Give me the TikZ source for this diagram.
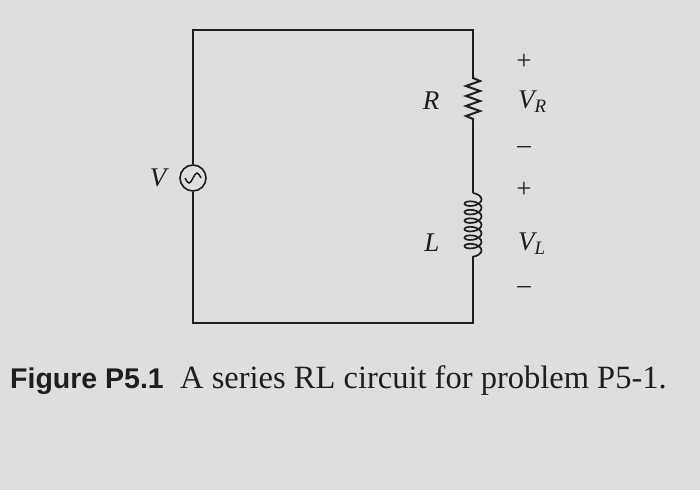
\documentclass[tikz,border=0pt]{standalone}
\usepackage{fontspec}
\setmainfont{Liberation Serif}
\newfontfamily\capsans{Liberation Sans}
\usetikzlibrary{decorations.pathmorphing}
\definecolor{page}{RGB}{222,222,224}
\definecolor{ink}{RGB}{30,30,32}
\tikzset{wire/.style={draw=ink,line width=2pt},
 lab/.style={text=ink,font=\fontsize{27}{29}\selectfont\itshape,inner sep=0pt},
 sgn/.style={text=ink,font=\fontsize{27}{29}\selectfont,inner sep=0pt}}
\begin{document}
\begin{tikzpicture}[x=1pt,y=-1pt]
\fill[page] (0,0) rectangle (700,490);
\useasboundingbox (0,0) rectangle (700,490);
\coordinate (tl) at (193,30); \coordinate (tr) at (473,30);
\coordinate (bl) at (193,323); \coordinate (br) at (473,323);
\coordinate (r1) at (473,75); \coordinate (r2) at (473,120);
\coordinate (l1) at (473,193); \coordinate (l2) at (473,260);
\node[circle,draw=ink,line width=1.6pt,minimum size=26pt,inner sep=0pt] (src) at (193,178) {};
\draw[ink,line width=1.5pt] ([xshift=-8pt]src.center) sin ([xshift=-4pt,yshift=-5pt]src.center) cos (src.center) sin ([xshift=4pt,yshift=5pt]src.center) cos ([xshift=8pt]src.center);
\path[wire] (src.north) -- (tl) -- (tr) -- (r1);
\path[wire] (src.south) -- (bl) -- (br) -- (l2);
\path[wire] (r2) -- (l1);
\path[wire,line join=miter] (r1) -- ++(0,3) -- ++(7,3) -- ++(-14,5) -- ++(14,5) -- ++(-14,5) -- ++(14,5) -- ++(-14,5) -- ++(14,5) -- ++(-14,5) -- ++(7,3) -- (r2);
\path[wire,line width=1.7pt,decorate,decoration={coil,aspect=0.5,segment length=8.5pt,amplitude=8.5pt}] (l1) -- (l2);
\node[lab] (V) at (158,178) {V};
\node[lab] (R) at (431,101) {R};
\node[lab] (L) at (432,243) {L};
\node[lab,anchor=west] (VR) at (518,102) {V\textsubscript{\fontsize{19}{20}\selectfont R}};
\node[lab,anchor=west] (VL) at (518,244) {V\textsubscript{\fontsize{19}{20}\selectfont L}};
\node[sgn] (p1) at (524,62) {+};
\node[sgn] (m1) at (524,150) {\textendash};
\node[sgn] (p2) at (524,190) {+};
\node[sgn] (m2) at (524,290) {\textendash};
\node[anchor=base west,inner sep=0pt,text=ink,font=\capsans\bfseries\fontsize{28.5}{30}\selectfont] (fig) at (10,388) {Figure P5.1};
\node[anchor=base west,inner sep=0pt,text=ink,font=\fontsize{32.5}{34}\selectfont] (cap) at (180,388) {A series RL circuit for problem P5-1.};
\end{tikzpicture}
\end{document}
